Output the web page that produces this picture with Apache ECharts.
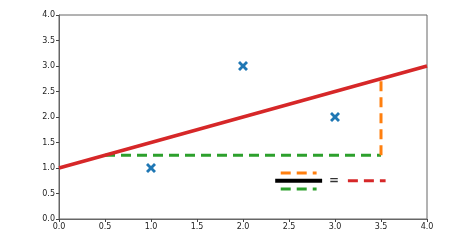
<!DOCTYPE html>
<html><head><meta charset="utf-8">
<script src="https://cdn.jsdelivr.net/npm/echarts@6/dist/echarts.min.js"></script>
<style>html,body{margin:0;padding:0;background:#fff}#c{width:474px;height:249px}</style>
</head><body><div id="c"></div>
<script>
var xTicks = [0, 0.5, 1, 1.5, 2, 2.5, 3, 3.5, 4];
var yTicks = [0, 0.5, 1, 1.5, 2, 2.5, 3, 3.5, 4];
var redLine = [[0, 1], [4, 3]];
var points = [[1, 1], [2, 3], [3, 2]];
var runLine = [[0.5, 1.25], [3.5, 1.25]];
var riseLine = [[3.5, 1.25], [3.5, 2.75]];
var fracBar = [[2.35, 0.75], [2.86, 0.75]];
var fracTop = [[2.41, 0.90], [2.80, 0.90]];
var fracBottom = [[2.41, 0.59], [2.80, 0.59]];
var slopeLine = [[3.14, 0.75], [3.55, 0.75]];
var equalsSign = [[2.99, 0.75]];

var xMark = 'path://M2,0 L5,3 L8,0 L10,2 L7,5 L10,8 L8,10 L5,7 L2,10 L0,8 L3,5 L0,2 Z';
var font = 'DejaVu Sans';
function ln(data, color, width, dashed, z) {
  return {type: 'line', data: data, symbol: 'none', z: z || 2, animation: false,
    lineStyle: {color: color, width: width, type: dashed ? [10, 6] : 'solid', cap: 'butt'}};
}
var chart = echarts.init(document.getElementById('c'));
chart.setOption({
  animation: false,
  grid: {left: 59, right: 47, top: 15, bottom: 30, show: true, borderColor: '#666', borderWidth: 1},
  xAxis: {type: 'value', min: 0, max: 4, interval: 0.5,
    axisLine: {show: true, lineStyle: {color: '#666'}},
    axisTick: {show: true, length: 3, lineStyle: {color: '#444'}},
    splitLine: {show: false},
    axisLabel: {fontFamily: font, fontSize: 8, color: '#222', margin: 4, formatter: function(v){return v.toFixed(1);}}},
  yAxis: {type: 'value', min: 0, max: 4, interval: 0.5,
    axisLine: {show: true, lineStyle: {color: '#666'}},
    axisTick: {show: true, length: 3, lineStyle: {color: '#444'}},
    splitLine: {show: false},
    axisLabel: {fontFamily: font, fontSize: 8, color: '#222', margin: 4, formatter: function(v){return v.toFixed(1);}}},
  series: [
    ln(redLine, '#d62728', 3.5, false, 3),
    ln(runLine, '#2ca02c', 3, true, 2),
    ln(riseLine, '#ff7f0e', 3, true, 2),
    ln(fracBar, '#000000', 4, false, 2),
    ln(fracTop, '#ff7f0e', 3, true, 2),
    ln(fracBottom, '#2ca02c', 3, true, 2),
    ln(slopeLine, '#d62728', 3, true, 2),
    {type: 'scatter', data: points, symbol: xMark, symbolSize: 10, z: 4,
      itemStyle: {color: '#1f77b4', opacity: 1}},
    {type: 'scatter', data: equalsSign, symbolSize: 0, z: 4,
      label: {show: true, position: 'inside', formatter: '=', fontFamily: font, fontWeight: 'bold', fontSize: 12, color: '#000'}}
  ]
});
</script></body></html>
